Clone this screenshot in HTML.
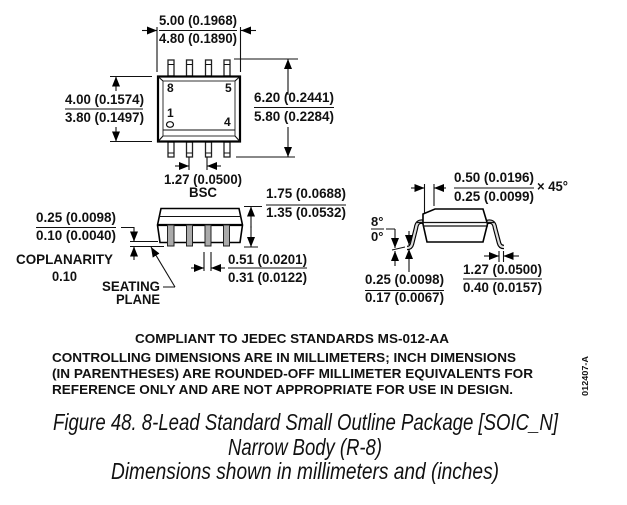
<!DOCTYPE html>
<html><head><meta charset="utf-8">
<style>html,body{margin:0;padding:0;background:#fff}svg{display:block}
text{font-family:"Liberation Sans",sans-serif;font-weight:bold;fill:#111;font-size:14px}
.s{font-size:13px}.c{font-size:23px;font-style:italic;font-weight:normal;fill:#111}
.l{stroke:#111;stroke-width:1.100;fill:none}.a{marker-end:url(#h)}</style></head><body>
<svg width="627" height="505" viewBox="0 0 627 505" xmlns="http://www.w3.org/2000/svg">
<defs><marker id="h" markerUnits="userSpaceOnUse" markerWidth="10" markerHeight="8" refX="10" refY="4" orient="auto"><path d="M0 0L10 4L0 8z" fill="#000"/></marker></defs>

<!-- top view -->
<g fill="#fff" stroke="#222" stroke-width="1.300">
<rect x="168" y="60" width="6" height="16"/><rect x="186.500" y="60" width="6" height="16"/><rect x="205.500" y="60" width="6" height="16"/><rect x="224" y="60" width="6" height="16"/>
<rect x="168" y="142" width="6" height="15"/><rect x="186.500" y="142" width="6" height="15"/><rect x="205.500" y="142" width="6" height="15"/><rect x="224" y="142" width="6" height="15"/>
</g>
<path class="l" d="M168 64.500h6M186.500 64.500h6M205.500 64.500h6M224 64.500h6M168 153h6M186.500 153h6M205.500 153h6M224 153h6"/>
<rect x="158" y="76.500" width="82" height="65" fill="#fff" stroke="#000" stroke-width="2.200"/>
<rect x="163" y="81" width="72" height="55" fill="#fff" stroke="#333" stroke-width="1"/>
<path class="l" d="M163 130h72M158 76.500l5 4.500M240 76.500l-5 4.500M158 141.500l5-5.500M240 141.500l-5-5.500"/>
<ellipse cx="170" cy="124.500" rx="3.500" ry="2.800" fill="#fff" stroke="#111" stroke-width="1.200"/>
<text x="167" y="92" style="font-size:12px">8</text><text x="225" y="92" style="font-size:12px">5</text>
<text x="167" y="117" style="font-size:12px">1</text><text x="224" y="126" style="font-size:12px">4</text>

<text x="159" y="25" textLength="78" lengthAdjust="spacingAndGlyphs">5.00 (0.1968)</text>
<path class="l" d="M159 30.500h78M157 27v45M240.500 27v45M110 76.500h42M110 141.500h42M234 59h64M236 157h59M65 109h78M254 107.500h80M189 157v13M207 157v13"/>
<text x="159" y="43" textLength="78" lengthAdjust="spacingAndGlyphs">4.80 (0.1890)</text>
<path class="l a" d="M142 30.500h15"/><path class="l a" d="M256 30.500h-15"/>
<path class="l a" d="M116 91V76.500"/><path class="l a" d="M116 127v14.500"/>
<path class="l a" d="M288 95V59"/><path class="l a" d="M288 127v30"/>
<path class="l a" d="M175 166h14"/><path class="l a" d="M221 166h-14"/>
<text x="65" y="104" textLength="79" lengthAdjust="spacingAndGlyphs">4.00 (0.1574)</text>
<text x="65" y="122" textLength="79" lengthAdjust="spacingAndGlyphs">3.80 (0.1497)</text>
<text x="254" y="102" textLength="80" lengthAdjust="spacingAndGlyphs">6.20 (0.2441)</text>
<text x="254" y="121" textLength="80" lengthAdjust="spacingAndGlyphs">5.80 (0.2284)</text>
<text x="164" y="184" textLength="78" lengthAdjust="spacingAndGlyphs">1.27 (0.0500)</text>
<text x="189" y="197" textLength="28" lengthAdjust="spacingAndGlyphs">BSC</text>

<!-- side view -->
<path d="M161 208.500H239L242.500 225L240 242.500H160L157.500 225Z" fill="#fff" stroke="#000" stroke-width="1.600"/>
<path class="l" d="M159 216.500H241"/><path d="M157.500 225H242.500" stroke="#000" stroke-width="2.200"/>
<g fill="#aaa" stroke="#222" stroke-width="1"><rect x="167.500" y="225" width="6.500" height="21"/><rect x="186.500" y="225" width="6" height="21"/><rect x="205" y="225" width="6" height="21"/><rect x="223.500" y="225" width="6" height="21"/></g>
<path class="l" d="M130 241.500h28M130 246.500h34M36 227.500h80M121 227.500h13v14M244 206.500h18M244 247h14M266 205h80M228 268h79M204 252v19M211 252v19M163 287h12"/>
<path class="l a" d="M134 232v9.500"/><path class="l a" d="M134 260v-13.500"/>
<path class="l a" d="M175 287L151 247"/>
<path class="l a" d="M251 228v-21.500"/><path class="l a" d="M251 226v21"/>
<path class="l a" d="M191 268h13"/><path class="l a" d="M225 268h-14"/>
<text x="36" y="222" textLength="80" lengthAdjust="spacingAndGlyphs">0.25 (0.0098)</text>
<text x="36" y="240" textLength="80" lengthAdjust="spacingAndGlyphs">0.10 (0.0040)</text>
<text x="16" y="264" textLength="97" lengthAdjust="spacingAndGlyphs">COPLANARITY</text>
<text x="52" y="281" textLength="25" lengthAdjust="spacingAndGlyphs">0.10</text>
<text x="102" y="291" textLength="58" lengthAdjust="spacingAndGlyphs">SEATING</text>
<text x="116" y="304" textLength="44" lengthAdjust="spacingAndGlyphs">PLANE</text>
<text x="266" y="198" textLength="80" lengthAdjust="spacingAndGlyphs">1.75 (0.0688)</text>
<text x="266" y="217" textLength="80" lengthAdjust="spacingAndGlyphs">1.35 (0.0532)</text>
<text x="228" y="264" textLength="79" lengthAdjust="spacingAndGlyphs">0.51 (0.0201)</text>
<text x="228" y="282" textLength="79" lengthAdjust="spacingAndGlyphs">0.31 (0.0122)</text>

<!-- end view -->
<path d="M424 222Q417 220 416 228L412 244Q411 248 407 248" fill="none" stroke="#000" stroke-width="4.500"/>
<path d="M424 222Q417 220 416 228L412 244Q411 248 407 248" fill="none" stroke="#ddd" stroke-width="2.200"/>
<path d="M487 222Q494 220 495 228L499 243Q500 247 504 247" fill="none" stroke="#000" stroke-width="4.500"/>
<path d="M487 222Q494 220 495 228L499 243Q500 247 504 247" fill="none" stroke="#ddd" stroke-width="2.200"/>
<path d="M435 209H483L487.500 224L483 242H427L423 224V214Z" fill="#fff" stroke="#000" stroke-width="1.600"/>
<path d="M417 222.500H494" stroke="#111" stroke-width="1.300"/><path d="M423 226H488" stroke="#111" stroke-width="1.300"/>
<path class="l" d="M424.500 184v29M434 184v22M454 188h80M371 229h13M386 229h9M392 250l13-3M365 290.500h79M463 279h79M499 251v11M503.500 251v11"/>
<path class="l a" d="M411 188h13.500"/><path class="l a" d="M446 188h-12"/>
<path class="l a" d="M395 229v19"/><path class="l a" d="M395 266v-15"/>
<path class="l a" d="M409 231v14"/><path class="l a" d="M409 272v-23"/>
<path class="l a" d="M484 256h15"/><path class="l a" d="M519 256h-15.500"/>
<text x="454" y="182" textLength="80" lengthAdjust="spacingAndGlyphs">0.50 (0.0196)</text>
<text x="454" y="201" textLength="80" lengthAdjust="spacingAndGlyphs">0.25 (0.0099)</text>
<text x="537" y="191" textLength="31" lengthAdjust="spacingAndGlyphs">× 45°</text>
<text x="371" y="226" style="font-size:13px">8°</text><text x="371" y="241" style="font-size:13px">0°</text>
<text x="365" y="284" textLength="79" lengthAdjust="spacingAndGlyphs">0.25 (0.0098)</text>
<text x="365" y="302" textLength="79" lengthAdjust="spacingAndGlyphs">0.17 (0.0067)</text>
<text x="463" y="274" textLength="79" lengthAdjust="spacingAndGlyphs">1.27 (0.0500)</text>
<text x="463" y="292" textLength="79" lengthAdjust="spacingAndGlyphs">0.40 (0.0157)</text>

<!-- notes -->
<text class="s" x="135" y="343" textLength="314" lengthAdjust="spacingAndGlyphs">COMPLIANT TO JEDEC STANDARDS MS-012-AA</text>
<text class="s" x="52" y="362" textLength="464" lengthAdjust="spacingAndGlyphs">CONTROLLING DIMENSIONS ARE IN MILLIMETERS; INCH DIMENSIONS</text>
<text class="s" x="52" y="378" textLength="481" lengthAdjust="spacingAndGlyphs">(IN PARENTHESES) ARE ROUNDED-OFF MILLIMETER EQUIVALENTS FOR</text>
<text class="s" x="52" y="394" textLength="461" lengthAdjust="spacingAndGlyphs">REFERENCE ONLY AND ARE NOT APPROPRIATE FOR USE IN DESIGN.</text>
<text transform="translate(588 396) rotate(-90)" style="font-size:8px" textLength="40" lengthAdjust="spacingAndGlyphs">012407-A</text>

<text class="c" x="53" y="430" textLength="505" lengthAdjust="spacingAndGlyphs">Figure 48. 8-Lead Standard Small Outline Package [SOIC_N]</text>
<text class="c" x="228" y="455" textLength="154" lengthAdjust="spacingAndGlyphs">Narrow Body (R-8)</text>
<text class="c" x="111" y="479" textLength="388" lengthAdjust="spacingAndGlyphs">Dimensions shown in millimeters and (inches)</text>
</svg>
</body></html>
